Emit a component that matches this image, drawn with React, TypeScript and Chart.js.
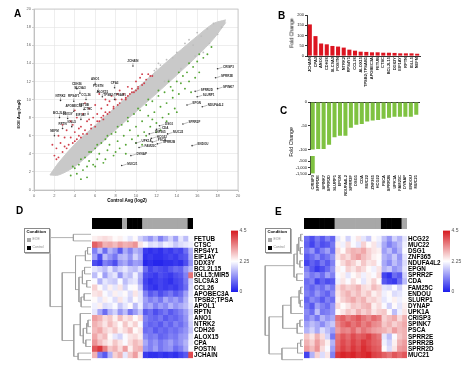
import React, { useEffect, useRef } from "react";
import { Chart, registerables } from "chart.js";
Chart.register(...registerables);

const FONT = '"Liberation Sans", Arial, Helvetica, sans-serif';
Chart.defaults.font.family = FONT;

// ---------------- Panel A (scatter) ----------------
const A_TICKS = [0, 2, 4, 6, 8, 10, 12, 14, 16, 18, 20];
const bandX = [1.56, 2.4, 4, 6, 8, 10, 12, 14, 16, 17.6, 18.8];
const bandUpper = [1.66, 3.0, 5.05, 7.15, 9.15, 11.15, 13.15, 15.1, 17.0, 18.4, 18.8];
const bandLower = [1.66, 1.65, 2.6, 4.55, 6.65, 8.65, 10.65, 12.7, 14.8, 16.7, 18.5];

const upPoints = [
  [2.0, 3.8], [2.2, 4.6], [2.4, 3.6], [2.6, 5.2], [2.8, 4.2], [3.0, 5.8], [3.0, 4.8], [3.2, 6.6], [3.4, 5.0], [3.6, 5.8],
  [3.8, 7.2], [4.0, 5.4], [4.0, 6.4], [4.2, 8.0], [4.4, 6.0], [4.6, 7.0], [4.6, 5.8], [4.8, 8.4], [5.0, 6.6], [5.2, 7.6],
  [5.2, 6.2], [5.4, 9.0], [5.6, 7.2], [5.8, 8.0], [6.0, 7.0], [6.0, 9.4], [6.2, 8.4], [6.4, 7.6], [6.6, 9.0], [6.8, 8.2],
  [7.0, 10.0], [7.0, 8.6], [7.2, 9.4], [7.4, 8.6], [7.6, 10.4], [7.8, 9.2], [8.0, 10.0], [8.2, 9.4], [8.4, 11.0], [8.6, 10.0],
  [8.8, 10.6], [9.0, 10.0], [9.2, 11.4], [9.4, 10.6], [9.6, 11.2], [9.8, 10.8], [10.0, 12.0], [10.2, 11.2], [10.4, 12.4], [10.6, 11.6],
  [11.0, 12.2], [11.2, 12.8], [11.6, 12.6], [2.4, 6.0], [3.6, 7.6], [5.0, 9.6], [6.4, 10.6], [1.8, 5.0], [2.8, 7.2], [4.0, 8.8],
  [2.2, 3.4], [3.2, 4.6], [4.2, 5.6], [4.8, 6.2], [5.6, 6.8], [6.2, 7.6], [6.8, 7.8], [7.2, 8.4], [7.8, 9.0], [8.4, 9.6],
  [9.0, 10.2], [9.6, 10.8], [10.2, 11.4], [10.8, 11.8], [11.4, 12.6], [3.8, 5.2], [4.4, 6.8], [5.4, 7.8], [6.6, 8.0], [7.4, 9.8],
  [8.2, 10.6], [9.2, 10.4], [10.0, 11.0], [10.6, 12.8],
];

const downPoints = [
  [3.6, 1.6], [4.0, 2.4], [4.2, 1.8], [4.4, 2.8], [4.8, 2.2], [5.0, 3.6], [5.2, 2.6], [5.4, 3.2], [5.6, 4.2], [5.8, 2.8],
  [6.0, 4.6], [6.2, 3.4], [6.4, 4.0], [6.6, 5.2], [6.8, 3.0], [7.0, 5.6], [7.2, 4.4], [7.4, 5.0], [7.6, 6.2], [7.8, 3.8],
  [8.0, 6.4], [8.2, 5.4], [8.4, 4.6], [8.6, 7.2], [8.8, 6.0], [9.0, 5.0], [9.2, 7.6], [9.4, 6.6], [9.6, 5.6], [9.8, 8.4],
  [10.0, 7.0], [10.2, 6.0], [10.4, 8.8], [10.6, 7.6], [10.8, 6.4], [11.0, 9.4], [11.2, 8.2], [11.4, 7.0], [11.6, 9.8], [11.8, 8.6],
  [12.0, 7.4], [12.2, 10.4], [12.4, 9.2], [12.6, 8.0], [12.8, 10.8], [13.0, 9.6], [13.2, 8.4], [13.4, 11.4], [13.6, 10.2], [13.8, 9.0],
  [14.0, 12.0], [14.2, 10.6], [14.4, 11.8], [14.6, 12.6], [14.8, 11.2], [15.0, 13.0], [15.2, 12.0], [15.4, 10.8], [15.6, 13.6], [15.8, 12.4],
  [16.0, 14.2], [16.2, 13.0], [16.6, 14.6], [17.0, 15.0], [17.4, 15.8], [8.0, 4.2], [9.0, 4.0], [10.0, 5.2], [11.0, 6.0], [12.0, 6.4],
  [13.0, 7.6], [6.0, 2.6], [7.0, 3.4], [5.2, 1.4], [4.6, 1.2], [3.8, 2.6], [4.6, 3.4], [5.4, 4.2], [6.2, 5.0], [7.2, 6.0],
  [8.2, 7.0], [9.2, 8.0], [10.2, 9.0], [11.2, 10.0], [12.2, 11.0], [13.2, 12.0], [14.2, 13.0], [15.2, 14.0], [16.2, 15.0], [10.6, 5.0],
  [12.4, 6.6], [14.0, 8.6], [11.6, 7.8], [13.6, 11.0],
];

const grayOutliers = [
  [12.0, 13.4], [12.4, 13.8], [12.2, 14.0], [13.0, 14.4], [14.0, 15.2], [14.8, 16.2], [15.2, 16.6], [16.0, 17.4], [16.4, 17.0], [17.0, 17.8],
  [13.6, 14.6], [15.6, 16.0], [12.8, 12.0], [14.4, 13.4], [15.8, 14.8], [17.2, 16.2], [16.6, 15.2], [18.0, 17.2], [13.2, 12.2], [11.8, 13.2],
  [17.6, 18.4], [18.4, 18.0],
];

const upLabeled = [
  [9.7, 13.7], [7.9, 11.3], [6.0, 11.7], [4.2, 11.2], [4.5, 10.7], [6.3, 10.9], [2.6, 9.9], [3.9, 9.8], [5.1, 10.0], [6.7, 10.3],
  [7.9, 10.0], [3.9, 8.7], [4.9, 8.9], [5.3, 8.4], [2.5, 8.0], [3.3, 7.9], [4.6, 7.8], [2.8, 6.8], [3.7, 7.0], [2.0, 6.0],
];
const downLabeled = [
  [18.0, 13.4], [17.8, 12.4], [18.0, 11.2], [15.8, 10.9], [16.0, 10.3], [15.0, 9.4], [16.5, 9.2], [14.6, 7.3], [12.3, 7.1], [12.0, 6.7],
  [13.1, 6.2], [11.3, 6.2], [11.5, 5.7], [11.6, 5.3], [12.1, 5.1], [10.0, 5.2], [10.3, 4.7], [9.5, 3.8], [15.5, 4.9], [8.6, 2.7],
];

// ---------------- Panel B / C (bars) ----------------
const genesB = ["JCHAIN", "CPA3", "ANO1", "CDH26", "SLC9A3", "POSTN", "NTRK2", "RPS4Y1", "CCL26", "ALOX15",
  "TPSB2;TPSAB1", "APOBEC3A", "FETUB", "CTSC", "BCL2L15", "DDX3Y", "EIF1AY", "RPTN", "IGLL5", "NEFM"];
const foldB = [154, 97, 61, 57, 49, 46, 41, 31, 26, 21, 20, 18, 18, 16, 16, 15, 13, 13, 13, 11];
const B_TICKS = [0, 50, 100, 150, 200];

const genesC = ["CRISP3", "SPRR2E", "SPINK7", "SPRR2D", "SLURP1", "EPGN", "NDUFA4L2", "SPRR2F", "DSG1", "CDA",
  "MUC22", "ZNF365", "HCG22", "PSCA", "SPRR2B", "UPK1A", "FAM25C", "DYNAP", "ENDOU", "MUC21"];
const foldC = [-1450, -99, -99, -90, -74, -71, -71, -54, -48, -46, -41, -39, -38, -35, -33, -31, -31, -31, -31, -27];
const C_TOP_TICKS = [0, -50, -100];
const C_BOTTOM_TICKS = [-500, -1000, -1500];

// ---------------- Panel D / E (heatmaps) ----------------
const genesD = ["FETUB", "CTSC", "RPS4Y1", "EIF1AY", "DDX3Y", "BCL2L15", "IGLL5;MIR5", "SLC9A3", "CCL26", "APOBEC3A",
  "TPSB2;TPSA", "APOL1", "RPTN", "ANO1", "NTRK2", "CDH26", "ALOX15", "CPA", "POSTN", "JCHAIN"];
const condD = ["Control", "Control", "Control", "Control", "Control", "Control", "EOE", "Control", "Control", "Control",
  "EOE", "EOE", "EOE", "EOE", "EOE", "EOE", "EOE", "EOE", "EOE", "Control"];
const heatD = [
  [2.4, 2.5, 2.6, 2.5, 2.3, 2.4, 2.2, 2.0, 2.3, 1.8, 1.5, 1.2, 1.6, 1.0, 1.4, 1.8, 1.3, 2.0, 1.6, 2.2],
  [3.8, 3.5, 3.0, 3.1, 2.9, 3.2, 3.0, 3.1, 3.3, 2.5, 2.2, 1.9, 2.0, 1.8, 2.1, 2.0, 1.7, 1.9, 2.0, 2.1],
  [1.0, 1.6, 0.8, 1.5, 1.2, 0.6, 1.4, 1.0, 1.5, 1.3, 0.3, 0.2, 0.3, 0.2, 0.4, 0.3, 0.5, 0.4, 0.8, 1.5],
  [1.3, 0.5, 1.6, 1.2, 0.9, 1.5, 1.6, 1.2, 1.8, 1.4, 0.2, 0.3, 0.2, 0.2, 0.3, 0.4, 0.3, 0.5, 0.6, 1.4],
  [0.5, 0.3, 1.0, 0.8, 0.5, 1.2, 1.4, 1.0, 1.3, 1.2, 0.1, 0.2, 0.1, 0.1, 0.2, 0.2, 0.3, 0.2, 0.5, 1.2],
  [2.0, 1.8, 1.6, 2.0, 1.5, 1.8, 2.0, 1.7, 1.6, 1.9, 0.8, 0.4, 0.6, 0.5, 0.4, 0.6, 0.8, 0.7, 1.2, 1.6],
  [1.6, 2.2, 1.3, 1.8, 2.0, 1.2, 1.8, 1.6, 2.1, 1.5, 0.5, 0.4, 0.3, 0.5, 0.4, 0.3, 0.5, 0.6, 1.0, 3.6],
  [2.2, 1.5, 2.0, 1.8, 1.7, 2.2, 1.6, 1.9, 2.0, 1.4, 0.4, 0.2, 0.3, 0.4, 0.3, 0.2, 0.4, 0.5, 0.9, 1.8],
  [2.7, 2.3, 1.9, 2.4, 2.0, 2.5, 1.8, 2.2, 2.3, 1.7, 0.5, 0.3, 0.2, 0.4, 0.3, 0.4, 0.3, 0.5, 0.8, 1.9],
  [2.5, 2.6, 2.2, 2.0, 2.4, 2.1, 2.3, 1.9, 2.5, 2.0, 1.0, 0.6, 0.8, 0.5, 0.7, 0.9, 0.6, 0.8, 1.3, 2.0],
  [2.3, 2.0, 2.4, 2.2, 1.9, 2.5, 2.1, 1.8, 2.3, 2.0, 1.3, 1.0, 1.2, 0.9, 1.4, 1.1, 1.3, 1.0, 1.5, 2.1],
  [2.1, 2.4, 1.9, 2.0, 2.2, 1.7, 2.0, 2.3, 1.6, 2.1, 1.2, 1.4, 1.0, 1.3, 1.1, 1.5, 1.2, 1.4, 1.6, 2.0],
  [2.0, 1.4, 0.8, 1.5, 1.8, 1.2, 1.6, 0.9, 1.3, 1.7, 0.6, 0.8, 0.5, 0.7, 0.9, 0.6, 0.8, 1.0, 1.3, 1.8],
  [3.2, 3.0, 2.6, 2.8, 2.4, 2.9, 2.5, 2.7, 2.3, 2.6, 1.0, 0.8, 0.7, 0.9, 0.6, 0.8, 0.7, 0.9, 1.2, 1.9],
  [3.0, 2.8, 2.5, 2.9, 2.6, 2.3, 2.8, 2.4, 2.7, 2.2, 0.9, 0.7, 0.8, 0.6, 0.9, 0.7, 1.0, 0.8, 1.1, 1.8],
  [2.9, 3.1, 2.7, 2.5, 2.8, 2.4, 2.6, 2.9, 2.3, 2.5, 0.8, 0.9, 0.6, 0.8, 0.7, 0.9, 0.8, 1.0, 1.2, 1.7],
  [3.1, 2.7, 2.9, 2.3, 2.0, 1.8, 2.2, 2.5, 2.6, 2.4, 1.1, 0.9, 1.0, 0.7, 0.8, 1.0, 0.9, 1.2, 1.3, 2.0],
  [3.3, 2.9, 2.6, 2.4, 2.8, 2.5, 2.2, 2.6, 2.9, 2.7, 1.4, 1.0, 1.2, 0.9, 1.1, 1.3, 1.0, 1.2, 1.5, 2.1],
  [3.9, 4.2, 3.5, 2.8, 3.0, 2.6, 3.2, 2.4, 2.9, 3.0, 1.2, 1.0, 1.3, 0.9, 1.1, 1.2, 0.8, 1.0, 1.4, 2.2],
  [3.0, 1.0, 0.6, 1.5, 2.7, 3.0, 2.0, 2.8, 3.2, 2.5, 0.3, 0.2, 0.2, 0.3, 0.2, 0.3, 0.2, 0.4, 0.6, 4.0],
];
const linkD = [
  [0, 1, 4.1], [2, 3, 0.8], [21, 4, 1.3], [5, 6, 1.5], [7, 8, 1.0], [23, 24, 2.0], [9, 10, 1.6], [26, 11, 2.3],
  [25, 27, 2.8], [22, 28, 3.6], [13, 14, 0.7], [30, 15, 1.0], [16, 17, 1.2], [31, 32, 1.8], [12, 33, 2.5],
  [18, 19, 3.0], [34, 35, 4.0], [29, 36, 6.7], [20, 37, 9.5],
];

const genesE = ["HCG22", "MUC22", "DSG1", "ZNF365", "NDUFA4L2", "EPGN", "SPRR2F", "CDA", "FAM25C", "ENDOU",
  "SLURP1", "DYNAP", "UPK1A", "CRISP3", "SPINK7", "PSCA", "SPRR2E", "SPRR2B", "SPRR2D", "MUC21"];
const condE = ["Control", "Control", "Control", "Control", "Control", "Control", "EOE", "EOE", "EOE", "EOE",
  "EOE", "EOE", "EOE", "EOE", "EOE", "Control", "Control", "Control", "Control", "EOE"];
const heatE = [
  [0.8, 0.5, 0.9, 0.6, 1.0, 0.7, 2.0, 2.3, 1.8, 2.2, 2.5, 2.0, 1.7, 2.3, 2.1, 1.6, 1.2, 1.8, 1.5, 2.0],
  [0.7, 0.4, 0.8, 0.5, 0.6, 0.9, 2.4, 2.1, 2.6, 2.2, 2.0, 2.7, 2.3, 2.5, 2.0, 1.4, 1.0, 1.3, 1.6, 2.1],
  [0.9, 1.2, 0.6, 1.0, 1.3, 0.8, 2.6, 2.3, 2.8, 3.0, 2.9, 3.1, 2.7, 2.5, 2.4, 1.3, 1.6, 1.1, 1.5, 2.2],
  [0.6, 0.8, 1.1, 0.7, 0.9, 1.2, 2.5, 2.8, 2.6, 3.0, 3.2, 2.9, 2.7, 2.4, 2.3, 1.5, 1.3, 1.7, 1.2, 2.0],
  [0.4, 0.7, 0.5, 0.9, 0.6, 1.0, 2.3, 2.6, 2.9, 2.7, 2.4, 2.8, 2.5, 2.6, 2.2, 1.4, 1.1, 1.6, 1.3, 1.9],
  [1.0, 0.6, 0.3, 0.5, 0.8, 1.2, 2.4, 2.2, 2.7, 2.5, 2.8, 2.6, 2.3, 2.1, 2.5, 1.5, 1.7, 1.2, 1.4, 2.0],
  [1.2, 0.9, 1.1, 0.8, 1.3, 1.0, 2.2, 2.4, 2.0, 2.3, 2.5, 2.1, 2.4, 2.2, 2.6, 0.4, 0.2, 0.8, 0.6, 1.8],
  [0.8, 1.0, 0.4, 0.7, 0.5, 0.6, 2.1, 2.5, 2.2, 2.6, 2.3, 2.0, 2.4, 2.7, 2.3, 0.6, 0.4, 0.3, 0.8, 1.6],
  [0.9, 0.7, 1.0, 0.8, 1.2, 0.9, 2.6, 2.9, 2.7, 2.8, 3.0, 2.6, 2.5, 2.9, 2.7, 2.0, 1.9, 2.2, 1.8, 2.3],
  [1.0, 0.8, 1.2, 0.9, 0.7, 1.1, 2.5, 2.8, 3.0, 2.7, 2.9, 2.6, 2.8, 2.4, 2.6, 2.1, 2.3, 1.9, 2.0, 2.2],
  [0.7, 1.1, 0.9, 0.6, 1.0, 0.8, 2.4, 2.7, 2.9, 3.1, 2.8, 3.0, 2.6, 2.7, 2.5, 2.0, 2.2, 2.4, 2.1, 2.3],
  [0.9, 0.6, 1.3, 1.0, 0.8, 1.2, 2.6, 2.3, 2.5, 2.8, 2.7, 2.9, 3.0, 2.4, 2.6, 2.2, 1.8, 2.3, 2.0, 2.4],
  [1.1, 0.8, 1.6, 0.9, 1.0, 1.2, 2.3, 2.5, 2.8, 2.6, 3.0, 2.7, 2.9, 2.5, 2.7, 2.8, 2.3, 1.6, 2.1, 2.5],
  [1.0, 1.3, 0.9, 1.5, 1.2, 1.4, 3.6, 3.8, 3.5, 3.7, 3.9, 3.6, 3.4, 3.7, 3.5, 2.7, 2.9, 3.1, 2.6, 3.0],
  [1.3, 1.6, 1.4, 1.1, 1.5, 1.7, 3.4, 3.7, 3.9, 3.6, 3.8, 3.5, 3.7, 3.4, 3.3, 2.8, 3.0, 2.7, 2.9, 3.1],
  [1.5, 1.8, 1.4, 1.9, 1.6, 1.3, 3.2, 3.5, 3.4, 3.7, 3.3, 3.6, 3.4, 3.2, 3.1, 3.0, 2.8, 3.2, 2.9, 3.0],
  [2.8, 2.5, 3.0, 2.6, 1.8, 0.9, 3.6, 3.9, 3.7, 4.0, 3.8, 3.9, 4.1, 3.8, 3.6, 2.0, 1.6, 2.2, 2.8, 3.0],
  [3.0, 2.7, 3.2, 2.8, 2.4, 1.5, 3.7, 4.0, 3.8, 4.1, 3.9, 4.2, 4.0, 3.8, 3.7, 2.1, 1.8, 2.4, 3.0, 3.2],
  [3.2, 2.9, 3.3, 2.6, 2.2, 1.3, 3.8, 4.1, 3.9, 4.2, 4.0, 4.3, 4.1, 3.9, 3.8, 2.3, 1.9, 2.5, 3.2, 3.3],
  [0.4, 1.5, 2.7, 1.9, 2.5, 1.0, 4.2, 4.4, 4.3, 4.4, 4.2, 4.3, 4.4, 4.1, 4.0, 3.8, 3.6, 3.9, 3.7, 3.9],
];
const linkE = [
  [0, 1, 0.6], [2, 3, 0.7], [20, 21, 1.1], [4, 5, 0.8], [22, 23, 1.5], [6, 7, 1.6], [24, 25, 2.3],
  [8, 9, 0.6], [10, 11, 0.7], [27, 28, 1.0], [29, 12, 3.1], [13, 14, 0.8], [31, 15, 1.5], [30, 32, 5.2],
  [16, 17, 0.6], [34, 18, 1.4], [35, 19, 5.4], [33, 36, 8.7], [26, 37, 9.7],
];
const SCALE_TICKS = [0, 2.25, 4.5];

// ---------------- styles ----------------
const RED_PT = "rgb(208,64,76)";
const GREEN_PT = "rgb(84,164,52)";
const BAND_GRAY = "#c9c9c9";
const RED_BAR = "#dc1420";
const GREEN_BAR = "#7fc241";
const COND_GRAY = "#a8a8a8";
const LOW = [28, 28, 235];
const MID = [255, 255, 255];
const HIGH = [214, 24, 30];

function heat(v: number): string {
  const t = Math.max(0, Math.min(1, v / 4.5));
  const [a, b, f] = t < 0.5 ? [LOW, MID, t / 0.5] : [MID, HIGH, (t - 0.5) / 0.5];
  const c = (a as number[]).map((x, i) => Math.round(x + ((b as number[])[i] - x) * (f as number)));
  return `rgb(${c[0]},${c[1]},${c[2]})`;
}

const baseOpts = {
  responsive: false,
  animation: false,
  devicePixelRatio: 1,
  events: [] as any[],
};
const noPlugins = { legend: { display: false }, tooltip: { enabled: false } };
const fixedTicks = (vals: number[]) => (s: any) => {
  s.ticks = vals.map((v) => ({ value: v }));
};
const hiddenGrid = { display: false, drawTicks: false };

const geneLabelPlugin = {
  id: "geneLabels",
  beforeDatasetsDraw(chart: any) {
    const { ctx, chartArea: a } = chart;
    ctx.save();
    ctx.strokeStyle = "#c4c4c4";
    ctx.lineWidth = 0.8;
    ctx.strokeRect(a.left, a.top, a.right - a.left, a.bottom - a.top);
    ctx.restore();
  },
  afterDatasetsDraw(chart: any) {
    const ctx = chart.ctx;
    chart.data.datasets.forEach((ds: any, i: number) => {
      if (!ds.geneLabels) return;
      const meta = chart.getDatasetMeta(i);
      ctx.save();
      ctx.font = `bold 3px ${FONT}`;
      ctx.fillStyle = "#2a2a2a";
      ctx.strokeStyle = "#555";
      ctx.lineWidth = 0.4;
      meta.data.forEach((el: any, j: number) => {
        const t = ds.geneLabels[j];
        const x = el.x, y = el.y;
        ctx.beginPath();
        if (ds.labelSide === "up") {
          ctx.moveTo(x, y - 0.6);
          ctx.lineTo(x, y - 3);
          ctx.stroke();
          ctx.textAlign = "center";
          ctx.textBaseline = "bottom";
          ctx.fillText(t, x, y - 3.2);
        } else {
          ctx.moveTo(x + 0.6, y);
          ctx.lineTo(x + 5, y - 1.5);
          ctx.stroke();
          ctx.textAlign = "left";
          ctx.textBaseline = "middle";
          ctx.fillText(t, x + 5.5, y - 1.5);
        }
      });
      ctx.restore();
    });
  },
};

const pts = (arr: number[][]) => arr.map(([x, y]) => ({ x, y }));

function scatterConfig(): any {
  const axis = (isX: boolean) => ({
    type: "linear",
    min: 0,
    max: 20,
    afterBuildTicks: fixedTicks(A_TICKS),
    ticks: { font: { size: 4 }, color: "#666", padding: 1, maxRotation: 0 },
    grid: { color: "#e3e3e3", lineWidth: 0.6, tickLength: 2, tickColor: "#aaa" },
    border: { color: "#b5b5b5", width: 0.8 },
    afterFit: (s: any) => {
      if (isX) s.height = 8;
      else s.width = 34;
    },
  });
  return {
    type: "scatter",
    data: {
      datasets: [
        { data: pts(upLabeled), backgroundColor: "#333", pointRadius: 0.8, borderWidth: 0, geneLabels: genesB, labelSide: "up", order: 0 },
        { data: pts(downLabeled), backgroundColor: "#333", pointRadius: 0.8, borderWidth: 0, geneLabels: genesC, labelSide: "right", order: 0 },
        { data: pts(upPoints), backgroundColor: RED_PT, pointRadius: 0.95, borderWidth: 0, order: 1 },
        { data: pts(downPoints), backgroundColor: GREEN_PT, pointRadius: 0.95, borderWidth: 0, order: 1 },
        { data: pts(grayOutliers), backgroundColor: "#bdbdbd", pointRadius: 0.9, borderWidth: 0, order: 2 },
        {
          type: "line",
          data: bandX.map((x, i) => ({ x, y: bandUpper[i] })),
          borderColor: BAND_GRAY, borderWidth: 1, pointRadius: 0, fill: false, tension: 0.3, order: 10,
        },
        {
          type: "line",
          data: bandX.map((x, i) => ({ x, y: bandLower[i] })),
          borderColor: BAND_GRAY, backgroundColor: BAND_GRAY, borderWidth: 1, pointRadius: 0, fill: "-1", tension: 0.3, order: 10,
        },
      ],
    },
    options: {
      ...baseOpts,
      layout: { padding: { top: 9, right: 3, left: 0, bottom: 0 } },
      plugins: noPlugins,
      scales: { x: axis(true), y: axis(false) },
    },
    plugins: [geneLabelPlugin],
  };
}

function barAxisY(min: number, max: number, ticks: number[], width: number) {
  return {
    min,
    max,
    afterBuildTicks: fixedTicks(ticks),
    ticks: { font: { size: 4 }, color: "#111", padding: 1 },
    grid: { drawOnChartArea: false, tickLength: 2, color: "#000", lineWidth: 0.8 },
    border: { color: "#000", width: 0.8 },
    afterFit: (s: any) => {
      s.width = width;
    },
  };
}

function barConfig(
  labels: string[], values: number[], color: string, yAxis: any, xOpts: any, padding: any, barPct: number
): any {
  return {
    type: "bar",
    data: { labels, datasets: [{ data: values, backgroundColor: color, barPercentage: barPct, categoryPercentage: 1, borderWidth: 0 }] },
    options: { ...baseOpts, layout: { padding }, plugins: noPlugins, scales: { x: xOpts, y: yAxis } },
  };
}

const rotLabels = (height: number, showBorder: boolean) => ({
  ticks: { autoSkip: false, minRotation: 90, maxRotation: 90, font: { size: 4, weight: "bold" }, color: "#111", padding: 1 },
  grid: hiddenGrid,
  border: showBorder ? { color: "#000", width: 0.8 } : { display: false },
  afterFit: (s: any) => {
    s.height = height;
  },
});

function heatConfig(genes: string[], matrix: number[][], labelWidth: number): any {
  const nCol = matrix[0].length;
  const datasets = Array.from({ length: nCol }, (_, c) => ({
    data: genes.map(() => [c, c + 1]),
    backgroundColor: genes.map((_, r) => heat(matrix[r][c])),
    borderWidth: 0,
    barPercentage: 1,
    categoryPercentage: 1,
    grouped: false,
  }));
  return {
    type: "bar",
    data: { labels: genes, datasets },
    options: {
      ...baseOpts,
      indexAxis: "y",
      layout: { padding: 0 },
      plugins: noPlugins,
      scales: {
        x: { type: "linear", display: false, min: 0, max: nCol },
        y: {
          position: "right",
          ticks: { autoSkip: false, font: { size: 6.3, weight: "bold" }, color: "#000", padding: 1 },
          grid: hiddenGrid,
          border: { display: false },
          afterFit: (s: any) => {
            s.width = labelWidth;
          },
        },
      },
    },
  };
}

function condConfig(cond: string[]): any {
  return {
    type: "bar",
    data: {
      labels: cond.map((_, i) => String(i)),
      datasets: [{
        data: cond.map(() => [0, 1]),
        backgroundColor: cond.map((c) => (c === "EOE" ? COND_GRAY : "#000")),
        borderWidth: 0, barPercentage: 1, categoryPercentage: 1,
      }],
    },
    options: {
      ...baseOpts, layout: { padding: 0 }, plugins: noPlugins,
      scales: { x: { display: false }, y: { display: false, min: 0, max: 1 } },
    },
  };
}

function colorbarConfig(): any {
  return {
    type: "bar",
    data: {
      labels: [""],
      datasets: [{
        data: [[SCALE_TICKS[0], SCALE_TICKS[SCALE_TICKS.length - 1]]],
        backgroundColor: (ctx: any) => {
          const { chart } = ctx;
          const a = chart.chartArea;
          if (!a) return heat(2.25);
          const g = chart.ctx.createLinearGradient(0, a.bottom, 0, a.top);
          SCALE_TICKS.forEach((v) => g.addColorStop(v / 4.5, heat(v)));
          return g;
        },
        borderWidth: 0, barPercentage: 1, categoryPercentage: 1,
      }],
    },
    options: {
      ...baseOpts,
      layout: { padding: { top: 4, bottom: 5, left: 0, right: 0 } },
      plugins: noPlugins,
      scales: {
        x: { display: false },
        y: {
          position: "right", min: 0, max: 4.5,
          afterBuildTicks: fixedTicks(SCALE_TICKS),
          ticks: { font: { size: 5 }, color: "#555", padding: 1.5, callback: (v: any) => String(v) },
          grid: hiddenGrid,
          border: { display: false },
          afterFit: (s: any) => {
            s.width = 17;
          },
        },
      },
    },
  };
}

function dendroConfig(link: number[][], n: number, padLeft: number, padRight: number): any {
  const nodes: { y: number; h: number }[] = [];
  for (let i = 0; i < n; i++) nodes.push({ y: i + 0.5, h: 0 });
  const datasets: any[] = [];
  link.forEach(([a, b, h]) => {
    const A = nodes[a], B = nodes[b];
    datasets.push({
      data: [{ x: A.h, y: A.y }, { x: h, y: A.y }, { x: h, y: B.y }, { x: B.h, y: B.y }],
      showLine: true, pointRadius: 0, borderColor: "#9c9c9c", borderWidth: 0.8, fill: false,
    });
    nodes.push({ y: (A.y + B.y) / 2, h });
  });
  return {
    type: "scatter",
    data: { datasets },
    options: {
      ...baseOpts,
      layout: { padding: { left: padLeft, right: padRight, top: 0, bottom: 0 } },
      plugins: noPlugins,
      scales: {
        x: { type: "linear", display: false, min: 0, max: 10, reverse: true },
        y: { type: "linear", display: false, min: 0, max: n, reverse: true },
      },
    },
  };
}

function ChartCanvas({ make, left, top, width, height }: { make: () => any; left: number; top: number; width: number; height: number }) {
  const ref = useRef<HTMLCanvasElement>(null);
  useEffect(() => {
    const chart = new Chart(ref.current as HTMLCanvasElement, make());
    return () => chart.destroy();
  }, []);
  return (
    <canvas
      ref={ref}
      width={width}
      height={height}
      style={{ position: "absolute", left, top, width, height, display: "block" }}
    />
  );
}

function Txt({ left, top, size, bold, children, color, rotate, center }: any) {
  return (
    <div
      style={{
        position: "absolute",
        left,
        top,
        fontSize: size,
        lineHeight: `${size}px`,
        fontWeight: bold ? "bold" : "normal",
        color: color || "#000",
        whiteSpace: "nowrap",
        transform: rotate ? `translate(-50%,-50%) rotate(-90deg)` : center ? "translate(-50%,-50%)" : undefined,
      }}
    >
      {children}
    </div>
  );
}

function CondLegend({ left, top }: { left: number; top: number }) {
  return (
    <div
      style={{
        position: "absolute", left, top, width: 26, height: 25, boxSizing: "border-box",
        border: "1px solid #8a8a8a", background: "#fff", boxShadow: "1px 1px 0 #b5b5b5",
      }}
    >
      <Txt left={1.5} top={1} size={4.2} bold>Condition</Txt>
      <div style={{ position: "absolute", left: 1.5, top: 8.5, width: 4.5, height: 4, background: COND_GRAY }} />
      <Txt left={7.5} top={8.7} size={3.4} color="#888">EOE</Txt>
      <div style={{ position: "absolute", left: 1.5, top: 17, width: 4.5, height: 4, background: "#000" }} />
      <Txt left={7.5} top={17.2} size={3.4} color="#888">Control</Txt>
    </div>
  );
}

export default function App() {
  return (
    <div
      style={{
        position: "fixed", left: 0, top: 0, width: 474, height: 372, background: "#fff",
        overflow: "hidden", fontFamily: FONT,
      }}
    >
      {/* Panel A */}
      <ChartCanvas make={scatterConfig} left={0} top={0} width={242} height={198} />
      <Txt left={127} top={200.5} size={4.6} bold center>Control Avg (log2)</Txt>
      <Txt left={19} top={114} size={4} bold rotate>EOE Avg (log2)</Txt>

      {/* Panel B */}
      <ChartCanvas
        make={() => barConfig(genesB, foldB, RED_BAR, barAxisY(0, 200, B_TICKS, 37), rotLabels(32, true), { top: 10, right: 10, left: 0, bottom: 0 }, 0.72)}
        left={270} top={5} width={160} height={83}
      />
      <Txt left={292} top={33} size={5.2} rotate>Fold Change</Txt>

      {/* Panel C: broken axis, upper and lower segments */}
      <ChartCanvas
        make={() => barConfig(genesC, foldC, GREEN_BAR, barAxisY(-100, 0, C_TOP_TICKS, 40),
          { position: "top", ticks: { display: false }, grid: hiddenGrid, border: { color: "#000", width: 0.8 }, afterFit: (s: any) => { s.height = 0; } },
          { top: 6, right: 11, left: 0, bottom: 0 }, 0.74)}
        left={270} top={96} width={160} height={57}
      />
      <ChartCanvas
        make={() => barConfig(genesC, foldC, GREEN_BAR, barAxisY(-1500, -100, C_BOTTOM_TICKS, 40), rotLabels(26, false),
          { top: 6, right: 11, left: 0, bottom: 0 }, 0.74)}
        left={270} top={150} width={160} height={50}
      />
      <Txt left={292} top={142} size={5.2} rotate>Fold Change</Txt>

      {/* Panel D */}
      <ChartCanvas make={() => dendroConfig(linkD, genesD.length, 4, 3)} left={44} top={231} width={50} height={132} />
      <ChartCanvas make={() => condConfig(condD)} left={92} top={218} width={101} height={11} />
      <ChartCanvas make={() => heatConfig(genesD, heatD, 47)} left={92} top={231} width={148} height={132} />
      <ChartCanvas make={colorbarConfig} left={231} top={226} width={24} height={71} />
      <CondLegend left={24} top={228} />

      {/* Panel E */}
      <ChartCanvas make={() => dendroConfig(linkE, genesE.length, 4, 3)} left={260} top={231} width={46} height={132} />
      <ChartCanvas make={() => condConfig(condE)} left={304} top={218} width={103} height={11} />
      <ChartCanvas make={() => heatConfig(genesE, heatE, 38)} left={304} top={231} width={141} height={132} />
      <ChartCanvas make={colorbarConfig} left={443} top={226} width={24} height={71} />
      <CondLegend left={265} top={228} />

      {/* Panel letters */}
      <Txt left={14} top={9} size={10} bold>A</Txt>
      <Txt left={278} top={11} size={10} bold>B</Txt>
      <Txt left={280} top={106} size={10} bold>C</Txt>
      <Txt left={16} top={206} size={10} bold>D</Txt>
      <Txt left={275} top={207} size={10} bold>E</Txt>
    </div>
  );
}
